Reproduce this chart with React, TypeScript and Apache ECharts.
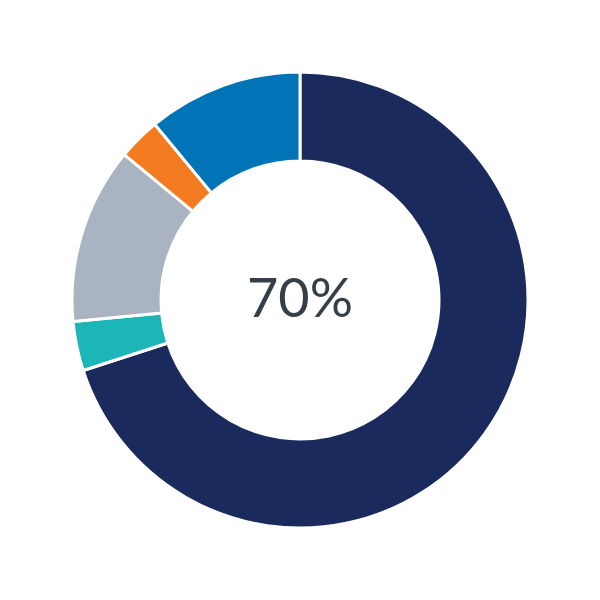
import React, { useEffect, useRef } from "react";
import * as echarts from "echarts";

const categories = ["Navy", "Teal", "Gray", "Orange", "Blue"];
const values = [70, 3.5, 12.5, 3, 11];
const colors = ["#1b2a5c", "#1cb5b8", "#a9b3c1", "#f47b20", "#0074b7"];
const centerLabel = "70%";

export default function App() {
  const ref = useRef<HTMLDivElement>(null);
  useEffect(() => {
    if (!ref.current) return;
    const chart = echarts.init(ref.current, undefined, { renderer: "svg" });
    chart.setOption({
      animation: false,
      backgroundColor: "#ffffff",
      graphic: [
        {
          type: "text",
          x: 300,
          y: 296,
          style: {
            text: centerLabel,
            fontSize: 54,
            fontFamily: "Lato",
            fill: "#363f48",
            align: "center",
            verticalAlign: "middle",
          },
        },
      ],
      series: [
        {
          type: "pie",
          center: [300, 300],
          radius: [139, 228],
          startAngle: 90,
          clockwise: true,
          label: { show: false },
          labelLine: { show: false },
          emphasis: { disabled: true },
          itemStyle: { borderColor: "#ffffff", borderWidth: 3 },
          data: categories.map((name, i) => ({
            name,
            value: values[i],
            itemStyle: { color: colors[i] },
          })),
        },
      ],
    });
    return () => chart.dispose();
  }, []);
  return (
    <div
      ref={ref}
      style={{ position: "absolute", left: 0, top: 0, width: 600, height: 600 }}
    />
  );
}
